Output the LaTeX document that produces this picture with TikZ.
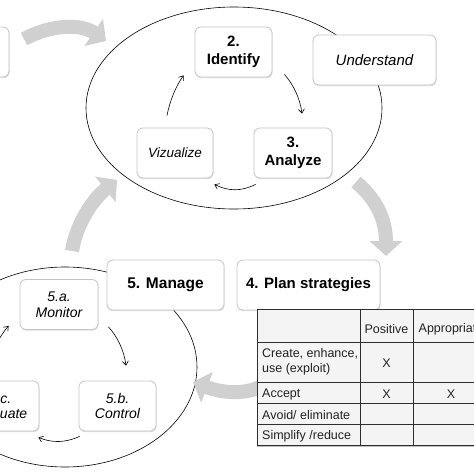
\documentclass[tikz,border=0pt]{standalone}
\usepackage{fontspec}
\setmainfont{Liberation Sans}
\usetikzlibrary{arrows.meta,shadows,shapes.geometric}
\definecolor{boxline}{HTML}{C4C4C4}
\definecolor{bigarr}{HTML}{D0D0D0}
\definecolor{tabfill}{HTML}{F4F4F4}
\definecolor{tabline}{HTML}{2E2E2E}
\definecolor{tabtext}{HTML}{222222}
\begin{document}
\begin{tikzpicture}[x=1pt,y=-1pt,
  box/.style={draw=boxline, line width=0.8pt, fill=white, rounded corners=6pt,
    drop shadow={shadow xshift=0.6pt, shadow yshift=-1.2pt, opacity=0.25},
    minimum height=50pt, inner sep=0pt, align=center},
  boldlab/.style={font=\fontsize{15}{18}\selectfont\bfseries},
  itlab/.style={font=\fontsize{14}{15.5}\selectfont\itshape},
  cyc/.style={ellipse, draw=black, line width=0.6pt, inner sep=0pt},
  small/.style={line width=0.6pt, -{Straight Barb[length=4pt,width=6pt]}},
  bigarrow/.style={line width=14pt, bigarr, -{Triangle[width=32pt,length=15pt]}},
  cell/.style={font=\fontsize{12.5}{15}\selectfont, text=tabtext, inner sep=0pt},
  tabgrid/.style={draw=tabline, line width=1pt}
]
\useasboundingbox (0,0) rectangle (474,474);
\clip (0,0) rectangle (474,474);

% cycles
\node[cyc, minimum width=296pt, minimum height=202pt] (topcyc) at (234,108) {};
\node[cyc, minimum width=264pt, minimum height=200pt] (botcyc) at (65,367) {};

% big grey arrows
\coordinate (g1s) at (24,39);   \coordinate (g1e) at (106,41);
\coordinate (g2s) at (356,182); \coordinate (g2e) at (386,256);
\coordinate (g3s) at (262,386); \coordinate (g3e) at (193,382);
\coordinate (g4s) at (72,251);  \coordinate (g4e) at (117,180);
\draw[bigarrow] (g1s) .. controls (50,25) and (80,23) .. (g1e);
\draw[bigarrow] (g2s) .. controls (375,198) and (386,218) .. (g2e);
\draw[bigarrow] (g3s) .. controls (245,395) and (222,393) .. (g3e);
\draw[bigarrow] (g4s) .. controls (76,225) and (92,200) .. (g4e);

% boxes
\node[box, minimum width=79pt] (step1) at (-30.5,52) {};
\node[box, boldlab, minimum width=77pt] (identify) at (233.5,52) {2.\\Identify};
\node[box, font=\fontsize{15}{17}\selectfont\itshape, minimum width=123pt] (understand) at (374.5,60) {Understand};
\node[box, font=\fontsize{13.5}{15}\selectfont\itshape, minimum width=76pt] (viz) at (175,153) {Vizualize};
\node[box, boldlab, minimum width=78pt] (analyze) at (293,153) {3.\\Analyze};
\node[box, font=\fontsize{15.5}{18}\selectfont\bfseries, minimum width=117pt] (manage) at (165.5,285) {5. Manage};
\node[box, boldlab, minimum width=143pt] (plan) at (308.5,285) {4. Plan strategies};
\node[box, itlab, minimum width=78pt] (monitor) at (59,304.5) {5.a.\\Monitor};
\node[box, itlab, minimum width=77pt] (control) at (117.5,406) {5.b.\\Control};
\node[box, itlab, minimum width=78pt] (evaluate) at (0,406) {5.c.\\Evaluate};

% small cycle arrows
\draw[small] ([shift={(-8,-12)}]viz.north) .. controls (170,100) and (176,86) .. ([shift={(-11,-2)}]identify.south west);
\draw[small] ([shift={(12,-3)}]identify.south east) .. controls (293,84) and (300,98) .. ([shift={(9,-14)}]analyze.north);
\draw[small] ([shift={(2,6)}]analyze.south west) .. controls (240,192) and (228,191) .. ([shift={(1,6)}]viz.south east);
\draw[small] ([shift={(10,-3)}]monitor.south east) .. controls (117,336) and (124,350) .. ([shift={(8.5,-15)}]control.north);
\draw[small] ([shift={(1,5)}]control.south west) .. controls (65,443) and (52,443) .. ([shift={(-1,6)}]evaluate.south east);
\draw[small] ([shift={(0,-43)}]evaluate.north) .. controls (3,333) and (5,330) .. ([shift={(-11,-4)}]monitor.south west);

% table
\node[tabgrid, fill=tabfill, minimum width=232pt, minimum height=136pt, inner sep=0pt, anchor=north west,
  drop shadow={shadow xshift=-0.8pt, shadow yshift=-1.2pt, opacity=0.5}] (tbl) at (257,309) {};
\foreach \yy in {342,382,403,424} \draw[tabgrid] (257,\yy) -- (489,\yy);
\foreach \xx in {360,413} \draw[tabgrid] (\xx,309) -- (\xx,445);
\node[cell] (tpos) at (386.5,329) {Positive};
\node[cell] (tapp) at (451,329) {Appropriate};
\node[cell, anchor=west, align=left] (tcreate) at (262,362) {Create, enhance,\\use (exploit)};
\node[cell] (x1) at (386.5,363) {X};
\node[cell, anchor=west] (taccept) at (262,394) {Accept};
\node[cell] (x2) at (386.5,394) {X};
\node[cell] (x3) at (451,394) {X};
\node[cell, anchor=west] (tavoid) at (262,415) {Avoid/ eliminate};
\node[cell, anchor=west] (tsimp) at (262,436) {Simplify /reduce};
\end{tikzpicture}
\end{document}
